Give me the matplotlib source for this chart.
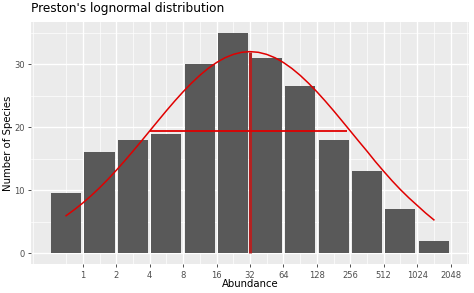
import numpy as np
import matplotlib.pyplot as plt
from matplotlib.ticker import FixedLocator

# octave classes (log2 abundance), bars sit between the tick labels
octave_labels = ['1', '2', '4', '8', '16', '32', '64', '128', '256', '512', '1024', '2048']
octave_mid = [-0.5, 0.5, 1.5, 2.5, 3.5, 4.5, 5.5, 6.5, 7.5, 8.5, 9.5, 10.5]
species = [9.5, 16, 18, 19, 30, 35, 31, 26.5, 18, 13, 7, 2]

# fitted lognormal curve
curve_x = [-0.5, -0.25, 0, 0.25, 0.5, 0.75, 1, 1.25, 1.5, 1.75, 2, 2.25, 2.5, 2.75,
           3, 3.25, 3.5, 3.75, 4, 4.25, 4.5, 4.75, 5, 5.25, 5.5, 5.75, 6, 6.25,
           6.5, 6.75, 7, 7.25, 7.5, 7.75, 8, 8.25, 8.5, 8.75, 9, 9.25, 9.5, 9.75,
           10, 10.25, 10.5]
curve_y = [5.96, 6.93, 7.98, 9.14, 10.39, 11.73, 13.16, 14.65, 16.2, 17.79, 19.41,
           21.02, 22.62, 24.16, 25.63, 26.99, 28.24, 29.34, 30.27, 31.02, 31.56,
           31.89, 32, 31.89, 31.56, 31.02, 30.27, 29.34, 28.24, 26.99, 25.63, 24.16,
           22.62, 21.02, 19.41, 17.79, 16.2, 14.55, 13.0, 11.5, 10.1, 8.8, 7.6, 6.4,
           5.3]

mode_x = 5
mode_y = 32
width_x = [2, 7.9]
width_y = 19.4

fig = plt.figure(figsize=(4.74, 2.93), dpi=100)
ax = fig.add_axes([0.0654, 0.098, 0.924, 0.828])
ax.set_facecolor('#EBEBEB')

ax.bar(octave_mid, species, width=0.9, color='#595959', zorder=2)
ax.plot(curve_x, curve_y, color='#E00000', lw=1.1, zorder=3)
ax.plot([mode_x, mode_x], [0, mode_y], color='#B22222', lw=2.2, zorder=3,
        solid_capstyle='butt')
ax.plot(width_x, [width_y, width_y], color='#E00000', lw=1.3, zorder=3,
        solid_capstyle='butt')

ax.set_xlim(-1.55, 11.55)
ax.set_ylim(-1.75, 36.75)
ax.set_xticks(range(len(octave_labels)))
ax.set_xticklabels(octave_labels)
ax.set_yticks([0, 10, 20, 30])
ax.xaxis.set_minor_locator(FixedLocator(np.arange(-1.5, 12, 1)))
ax.yaxis.set_minor_locator(FixedLocator([5, 15, 25, 35]))
ax.grid(which='major', color='white', lw=1.0, zorder=0)
ax.grid(which='minor', color='white', lw=0.5, zorder=0)
ax.set_axisbelow(True)
for s in ax.spines.values():
    s.set_visible(False)
ax.tick_params(which='major', length=2.5, width=0.6, color='#333333',
               labelsize=6, labelcolor='#4D4D4D', pad=2)
ax.tick_params(which='minor', length=0)

ax.set_xlabel('Abundance', fontsize=7.3)
ax.set_ylabel('Number of Species', fontsize=7.3)
ax.xaxis.set_label_coords(0.5, -0.06)
ax.yaxis.set_label_coords(-0.04, 0.5)
ax.set_title("Preston's lognormal distribution", fontsize=8.7, loc='left', pad=7)

fig.savefig('out.png', dpi=100)
